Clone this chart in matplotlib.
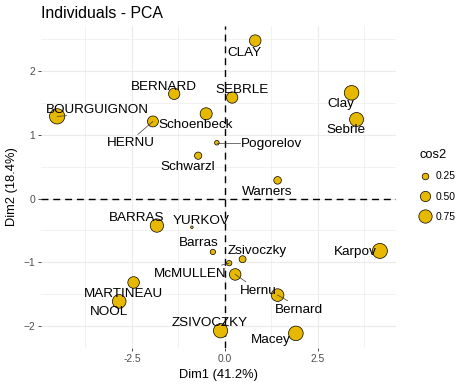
import numpy as np
import matplotlib as mpl
mpl.use('Agg')
import matplotlib.pyplot as plt
from matplotlib.lines import Line2D

plt.rcParams['font.family'] = ['Liberation Sans', 'DejaVu Sans']

## PCA individuals (Dim1, Dim2) and their cos2
names = ['BOURGUIGNON', 'BERNARD', 'Schoenbeck', 'HERNU', 'Pogorelov', 'Schwarzl',
         'CLAY', 'SEBRLE', 'Clay', 'Sebrle', 'Warners', 'BARRAS', 'YURKOV', 'Barras',
         'McMULLEN', 'MARTINEAU', 'NOOL', 'ZSIVOCZKY', 'Zsivoczky', 'Hernu', 'Bernard',
         'Macey', 'Karpov']
dim1 = [-4.51, -1.363, -0.503, -1.935, -0.215, -0.718,
        0.815, 0.196, 3.406, 3.54, 1.417, -1.828, -0.887, -0.323,
        0.116, -2.454, -2.841, -0.116, 0.476, 0.277, 1.417,
        1.909, 4.167]
dim2 = [1.29, 1.643, 1.33, 1.21, 0.876, 0.673,
        2.477, 1.585, 1.659, 1.241, 0.286, -0.423, -0.449, -0.836,
        -1.012, -1.315, -1.612, -2.072, -0.95, -1.189, -1.513,
        -2.113, -0.82]
cos2 = [0.94, 0.58, 0.64, 0.55, 0.14, 0.29,
        0.60, 0.58, 0.87, 0.81, 0.31, 0.75, 0.05, 0.18,
        0.18, 0.60, 0.78, 0.84, 0.27, 0.60, 0.69,
        0.87, 0.91]
legend_vals = [0.25, 0.50, 0.75]

## where the repelled labels ended up (x centre, baseline)
lab_x = [-3.43, -1.645, -0.785, -2.52, 1.245, -1.008,
         0.538, 0.465, 3.118, 3.258, 1.142, -2.379, -0.626, -0.712,
         -0.933, -2.734, -3.124, -0.411, 0.874, 0.909, 1.995,
         1.223, 3.495]
lab_y = [1.345, 1.706, 1.105, 0.818, 0.807, 0.454,
         2.242, 1.652, 1.433, 1.026, 0.063, -0.355, -0.391, -0.742,
         -1.236, -1.540, -1.826, -1.994, -0.872, -1.502, -1.790,
         -2.269, -0.887]
## segment ends for labels pushed away from their point
seg_end = {'BOURGUIGNON': (-4.255, 1.30), 'HERNU': (-2.339, 1.007),
           'Pogorelov': (0.403, 0.876), 'Hernu': (0.565, -1.305),
           'Bernard': (1.685, -1.600), 'McMULLEN': (-0.089, -1.043)}

gold = '#E7B800'
edge_lw = 0.5

def diam_pt(v):
    # point diameter (with outline) in points, area-like scale
    return (-5.27 + 20.66*np.sqrt(np.asarray(v) + 0.12))*0.72

W, H = 474, 387
fig = plt.figure(figsize=(W/100, H/100), dpi=100)
ax = fig.add_axes([41/W, 1-348/H, (396-41)/W, (348-26)/H])

x = np.array(dim1)
y = np.array(dim2)
xr = x.max()-x.min()
yr = y.max()-y.min()
ax.set_xlim(x.min()-0.05*xr, x.max()+0.05*xr)
ax.set_ylim(y.min()-0.05*yr, y.max()+0.05*yr)

ax.set_xticks([-2.5, 0, 2.5])
ax.set_xticklabels(['-2.5', '0.0', '2.5'])
ax.set_xticks([-3.75, -1.25, 1.25, 3.75], minor=True)
ax.set_yticks([-2, -1, 0, 1, 2])
ax.set_yticks([-1.5, -0.5, 0.5, 1.5, 2.5], minor=True)
ax.grid(True, which='major', color='#EBEBEB', lw=0.8)
ax.grid(True, which='minor', color='#EBEBEB', lw=0.45)
ax.set_axisbelow(True)
for s in ax.spines.values():
    s.set_visible(False)
ax.tick_params(which='major', length=2.2, width=0.6, color='#333333',
               labelsize=7.4, labelcolor='#4D4D4D', pad=2)
ax.tick_params(which='minor', length=0)

ax.axhline(0, color='black', lw=1.0, ls=(0, (5, 3.5)), zorder=1)
ax.axvline(0, color='black', lw=1.0, ls=(0, (5, 3.5)), zorder=1)

d = diam_pt(cos2)
ax.scatter(x, y, s=(d-edge_lw)**2, c=gold, edgecolors='black', linewidths=edge_lw, zorder=3)

for i, nm in enumerate(names):
    if nm in seg_end:
        ex, ey = seg_end[nm]
        ax.plot([dim1[i], ex], [dim2[i], ey], color='#3a3a3a', lw=0.5, zorder=4)
    ax.text(lab_x[i], lab_y[i], nm, ha='center', va='baseline', fontsize=9.7,
            color='black', zorder=5)

ax.set_xlabel('Dim1 (41.2%)', fontsize=9.3, labelpad=4)
ax.set_ylabel('Dim2 (18.4%)', fontsize=9.3, labelpad=4)
fig.text(41/W, 1-18/H, 'Individuals - PCA', fontsize=11.4, ha='left', va='baseline')

handles = [Line2D([], [], marker='o', ls='', markerfacecolor=gold, markeredgecolor='black',
                  markeredgewidth=edge_lw, markersize=diam_pt(v)-edge_lw) for v in legend_vals]
leg = fig.legend(handles, ['%.2f' % v for v in legend_vals], title='cos2',
                 loc='upper left', bbox_to_anchor=(412/W, 1-142/H), frameon=False,
                 fontsize=7.4, title_fontsize=9.3, alignment='left',
                 handlelength=1.2, handletextpad=0.4, labelspacing=1.0,
                 borderpad=0.2)

fig.savefig('out.png', dpi=100)
